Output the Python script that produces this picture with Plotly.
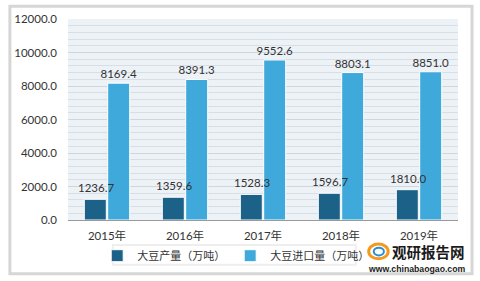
import plotly.graph_objects as go

years = ["2015年", "2016年", "2017年", "2018年", "2019年"]
production = [1236.7, 1359.6, 1528.3, 1596.7, 1810.0]
imports = [8169.4, 8391.3, 9552.6, 8803.1, 8851.0]
series_names = ["大豆产量（万吨）", "大豆进口量（万吨）"]
y_ticks = [0, 2000, 4000, 6000, 8000, 10000, 12000]

font_main = "Lato, 'Noto Sans CJK SC', sans-serif"
font_cjk = "'Noto Sans CJK SC', sans-serif"

fig = go.Figure()
fig.add_trace(go.Bar(
    x=years, y=production, name=series_names[0],
    marker=dict(color="#1b6188", line=dict(color="white", width=1)),
    cliponaxis=False,
))
fig.add_trace(go.Bar(
    x=years, y=imports, name=series_names[1],
    marker=dict(color="#40a9dc", line=dict(color="white", width=1)),
    text=[f"{v:.1f}" for v in imports], textposition="outside",
    textfont=dict(size=11.5, color="#333333", family=font_main),
    cliponaxis=False, constraintext="none",
))

# production labels drawn on top (they overlap the neighbouring bar in the reference)
annotations = [
    dict(x=yr, y=v, xref="x", yref="y", text=f"{v:.1f}", showarrow=False,
         xshift=-11.5, yshift=3, yanchor="bottom",
         font=dict(size=11.5, color="#333333", family=font_main))
    for yr, v in zip(years, production)
]
annotations += [
    dict(text="<b>观研报告网</b>", xref="paper", yref="paper", x=1.024, y=-0.155,
         xanchor="right", yanchor="middle", showarrow=False,
         font=dict(size=14.5, color="#1a1a1a", family=font_cjk)),
    dict(text="<b>www.chinabaogao.com</b>", xref="paper", yref="paper", x=1.024, y=-0.242,
         xanchor="right", yanchor="middle", showarrow=False,
         font=dict(size=8.7, color="#1a1a1a", family="'Liberation Sans', sans-serif")),
]

fig.update_layout(
    width=480, height=281,
    margin=dict(l=68, r=22, t=19, b=60),
    paper_bgcolor="white",
    plot_bgcolor="#edf2f7",
    barmode="group", bargap=0.4, bargroupgap=0.06,
    font=dict(family=font_main, size=11, color="#333333"),
    showlegend=True,
    legend=dict(
        orientation="h", x=0.43, xanchor="center", y=-0.1, yanchor="top",
        bgcolor="rgba(0,0,0,0)", font=dict(size=11, family=font_cjk, color="#333333"),
        itemwidth=30, traceorder="normal", tracegroupgap=0,
    ),
    xaxis=dict(
        showgrid=False, showline=True, linecolor="#999999", linewidth=1,
        ticks="", ticklabelstandoff=5,
        tickfont=dict(size=11.5, family=font_main, color="#333333"),
    ),
    yaxis=dict(
        range=[0, 12000], tickvals=y_ticks,
        ticktext=[f"{v:.1f}" for v in y_ticks],
        showgrid=True, gridcolor="#cfd6de", gridwidth=1,
        minor=dict(dtick=400, showgrid=True, gridcolor="#d8dee5", gridwidth=1),
        zeroline=False, showline=False, ticks="", ticklabelstandoff=10,
        tickfont=dict(size=11.5, family=font_main, color="#333333"),
    ),
    shapes=[
        dict(type="rect", xref="paper", yref="paper", x0=-0.149, x1=1.036, y0=-0.267, y1=1.064,
             line=dict(color="#d6d6d6", width=3), layer="below"),
        dict(type="rect", xref="paper", yref="paper", x0=0.115, x1=0.738, y0=-0.124, y1=-0.223,
             line=dict(color="#eeeeee", width=2), fillcolor="white", layer="below"),
        # small logo icon
        dict(type="circle", xref="paper", yref="paper", x0=0.771, x1=0.821, y0=-0.12, y1=-0.193,
             line=dict(color="#f39a1e", width=3)),
        dict(type="circle", xref="paper", yref="paper", x0=0.784, x1=0.81, y0=-0.138, y1=-0.176,
             line=dict(color="#2a8fd0", width=2)),
    ],
    annotations=annotations,
)

fig.write_html("out.html")
